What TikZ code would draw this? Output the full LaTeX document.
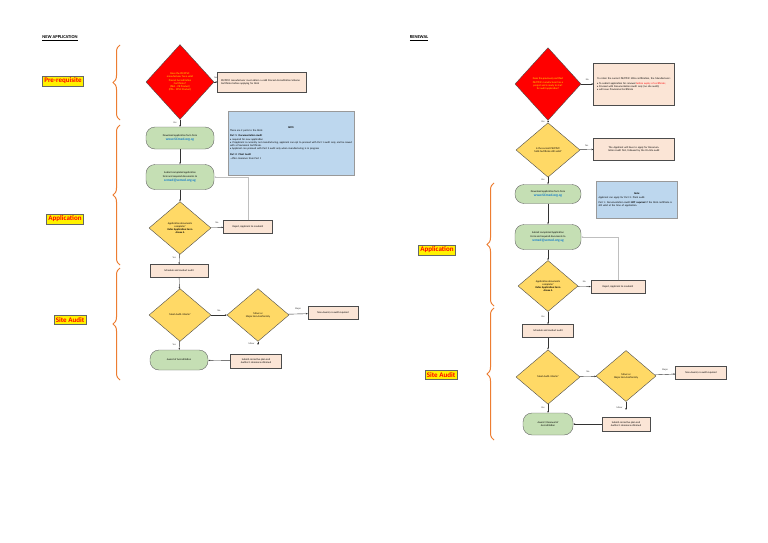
\documentclass[tikz,border=0pt]{standalone}
\usepackage{fontspec}
\setmainfont{Carlito}
\usetikzlibrary{shapes.geometric,decorations.pathreplacing,arrows.meta}
\definecolor{redd}{HTML}{FF0000}
\definecolor{yel}{HTML}{FFD966}
\definecolor{grn}{HTML}{C5DFB4}
\definecolor{pnk}{HTML}{FBE5D6}
\definecolor{blu}{HTML}{BDD7EE}
\definecolor{org}{HTML}{ED7D31}
\begin{document}
\begin{tikzpicture}[x=1pt,y=-1pt,
 tx/.style={font=\fontsize{2.6}{3.2}\selectfont,align=center},
 dred/.style={diamond,draw=black!70,fill=redd,tx,text=yellow,inner sep=-4pt,aspect=0.95,minimum width=#1,minimum height=#1*1.1},
 dyel/.style={diamond,draw=black!70,fill=yel,tx,inner sep=-5pt,aspect=1.15,minimum width=#1,minimum height=#1*0.85},
 grn/.style={draw=black!60,fill=grn,rounded corners=9pt,tx,minimum width=68,minimum height=22},
 pbox/.style={draw=black!70,fill=pnk,tx,minimum height=13},
 nbox/.style={draw=black!40,fill=blu,tx,align=left,inner sep=2pt},
 lab/.style={draw=black!60,fill=yellow,text=redd,font=\bfseries\fontsize{7}{8}\selectfont,inner sep=2pt},
 arr/.style={-{Stealth[length=2pt]},black!80,line width=0.4pt},
 garr/.style={-{Stealth[length=2pt]},black!25,line width=0.6pt},
 sm/.style={font=\fontsize{2.4}{3}\selectfont},
 br/.style={decorate,decoration={brace,amplitude=7pt},draw=org,line width=1pt}]
\useasboundingbox (0,0) rectangle (768,543);
\fill[white] (0,0) rectangle (768,543);
% ===== LEFT =====
\node[font=\bfseries\fontsize{4.5}{5}\selectfont] (t1) at (60,38) {\underline{NEW APPLICATION}};
\coordinate (b1a) at (120,45); \coordinate (b1b) at (120,120);
\coordinate (b2a) at (120,125); \coordinate (b2b) at (120,265);
\coordinate (b3a) at (120,268); \coordinate (b3b) at (120,380);
\draw[br] (b1b) -- (b1a); \draw[br] (b2b) -- (b2a); \draw[br] (b3b) -- (b3a);
\node[lab] (l1) at (63,81) {Pre-requisite};
\node[lab] (l2) at (65,219) {Application};
\node[lab] (l3) at (70,320) {Site Audit};

\node[dred=68] (r1) at (180,82) {Does the PR/PPVC\\manufacturer has a valid\\Precast Accreditation\\Certificate?\\(PRA -- PR Product)\\(PPA -- PPVC Product)};
\node[pbox,text width=82,align=left,minimum height=20] (p1) at (262,82) {PR/PPVC manufacturer must obtain a valid Precast Accreditation Scheme Certificate before applying for MAS};
\node[nbox,text width=122,minimum height=64] (n1) at (291,143) {\centering\textbf{NOTE}\par\raggedright There are 2 parts to the MAS:\par\vspace{2pt}\textbf{Part 1: Documentation Audit}\par
\textbullet\ required for new application\par
\textbullet\ if Applicant is currently not manufacturing, applicant can opt to proceed with Part 1 audit only, and be issued with a Provisional Certificate.\par
\textbullet\ Applicant can proceed with Part 2 audit only when manufacturing is in progress\par\vspace{3pt}
\textbf{Part 2: Plant Audit}\par - After clearance from Part 1};
\node[grn] (g1) at (180,138) {Download application form from\\[1pt]{\color{cyan!60!blue}\bfseries\fontsize{3.5}{4}\selectfont www.SCmed.org.sg}};
\node[grn,minimum height=25] (g2) at (180,177) {Submit completed application\\form and required documents to\\[1pt]{\color{cyan!60!blue}\bfseries\fontsize{3.5}{4}\selectfont scmed@scmed.org.sg}};
\node[dyel=62] (y1) at (180,228) {Application documents\\complete?\\\textbf{Refer Application Form}\\\textbf{Annex A}};
\node[pbox,minimum width=49] (p2) at (248,227) {Reject, Applicant to resubmit};
\node[pbox,minimum width=58] (p3) at (179,271) {Schedule and conduct audit};
\node[dyel=62] (y2) at (180,315) {Meet Audit criteria?};
\node[dyel=62] (y3) at (258,315) {Minor or\\Major Non-Conformity};
\node[pbox,minimum width=50] (p4) at (333,313) {Non-Award, re-audit required};
\node[grn,minimum width=58,minimum height=20] (g3) at (179,360) {Award of Accreditation};
\node[pbox,minimum width=51,minimum height=14] (p5) at (256,361) {Submit corrective plan and\\Auditor's clearance obtained};
\coordinate (m1) at (258,345);
\draw[arr] (r1) -- node[sm,above]{No} (p1);
\draw[arr] (r1) -- node[sm,pos=0.4,left]{Yes} (g1);
\draw[arr] (g1) -- (g2);
\draw[arr] (g2) -- (y1);
\draw[arr] (y1) -- node[sm,above]{No} (p2);
\draw[garr] (p2.north) |- (g2.east);
\draw[arr] (y1) -- node[sm,pos=0.4,left]{Yes} (p3);
\draw[arr] (p3) -- (y2);
\draw[arr] (y2) -- node[sm,above]{No} (y3);
\draw[arr] (y3) -- node[sm,above]{Major} (p4);
\draw[arr] (y3) -- node[sm,pos=0.7,left]{Minor} (m1);
\draw[arr] (y2) -- node[sm,pos=0.4,left]{Yes} (g3);
\draw[arr] (p5) -- (g3);
% ===== RIGHT =====
\node[font=\bfseries\fontsize{4.5}{5}\selectfont] (t2) at (419,38) {\underline{RENEWAL}};
\coordinate (b4a) at (494,183); \coordinate (b4b) at (494,306);
\coordinate (b5a) at (494,308); \coordinate (b5b) at (494,440);
\draw[br] (b4b) -- (b4a); \draw[br] (b5b) -- (b5a);
\node[lab] (l4) at (437,250) {Application};
\node[lab] (l5) at (441,375) {Site Audit};

\node[dred=66] (r2) at (548,84) {Does the previously certified\\PR/PPVC manufacturer has a\\project and is ready to start\\for audit application?};
\node[pbox,text width=74,align=left,minimum height=42] (p6) at (634,84) {\centering To retain the current PR/PPVC MAS certification, the Manufacturer:\par\raggedright\vspace{2pt}
\textbullet\ To submit application for renewal {\color{red}before expiry of certificate;}\par
\textbullet\ Proceed with Documentation Audit only (no site audit);\par
\textbullet\ will issue Provisional Certificate};
\node[dyel=64] (y4) at (548,150) {Is the current PR/PPVC\\MAS Certificate still valid?};
\node[pbox,text width=74,minimum height=22] (p7) at (634,149) {The Applicant will have to apply for Documentation Audit first, followed by the On-Site audit};
\node[grn,minimum width=66,minimum height=19] (g4) at (548,194) {Download application form from\\[1pt]{\color{cyan!60!blue}\bfseries\fontsize{3.5}{4}\selectfont www.SCmed.org.sg}};
\node[nbox,text width=77,minimum height=37] (n2) at (637,200) {\centering\textbf{Note:}\par\raggedright Applicant can apply for Part 2: Plant audit.\par\vspace{2pt} Part 1: Documentation Audit \textbf{NOT required} if the MAS certificate is still valid at the time of application.};
\node[grn,minimum width=66,minimum height=25] (g5) at (548,237) {Submit completed Application\\Form and required documents to\\[1pt]{\color{cyan!60!blue}\bfseries\fontsize{3.5}{4}\selectfont scmed@scmed.org.sg}};
\node[dyel=60] (y5) at (548,286) {Application documents\\complete?\\\textbf{Refer Application Form}\\\textbf{Annex A}};
\node[pbox,minimum width=54] (p8) at (618,287) {Reject, Applicant to resubmit};
\node[pbox,minimum width=51] (p9) at (548,331) {Schedule and conduct audit};
\node[dyel=64] (y6) at (548,377) {Meet Audit criteria?};
\node[dyel=60] (y7) at (626,376) {Minor or\\Major Non-Conformity};
\node[pbox,minimum width=51] (p10) at (701,373) {Non-Award, re-audit required};
\node[grn,minimum width=50,minimum height=22] (g6) at (548,424) {Award / Renewal of\\Accreditation};
\node[pbox,minimum width=48,minimum height=14] (p11) at (626,424) {Submit corrective plan and\\Auditor's clearance obtained};
\coordinate (m2) at (626,410);
\draw[arr] (r2) -- node[sm,above]{No} (p6);
\draw[arr] (r2) -- node[sm,pos=0.4,left]{Yes} (y4);
\draw[arr] (y4) -- node[sm,above]{Yes} (p7);
\draw[arr] (y4) -- node[sm,pos=0.4,left]{Yes} (g4);
\draw[arr] (g4) -- (g5);
\draw[arr] (g5) -- (y5);
\draw[arr] (y5) -- node[sm,above]{No} (p8);
\draw[garr] (p8.north) |- (g5.east);
\draw[arr] (y5) -- node[sm,pos=0.4,left]{Yes} (p9);
\draw[arr] (p9) -- (y6);
\draw[arr] (y6) -- node[sm,above]{No} (y7);
\draw[arr] (y7) -- node[sm,above]{Major} (p10);
\draw[arr] (y7) -- node[sm,pos=0.7,left]{Minor} (m2);
\draw[arr] (y6) -- node[sm,pos=0.4,left]{Yes} (g6);
\draw[arr] (p11) -- (g6);
\end{tikzpicture}
\end{document}
